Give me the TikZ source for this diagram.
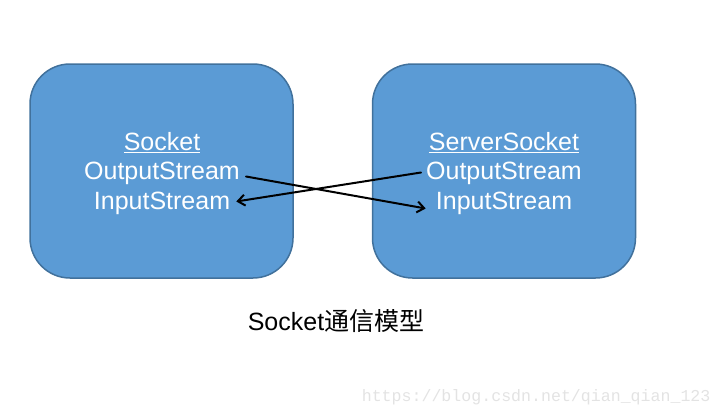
\documentclass[tikz,border=0pt]{standalone}
\usepackage{fontspec}
\setmainfont{Liberation Sans}
\newfontfamily\cjk{Noto Sans CJK SC}
\newfontfamily\markfont{Liberation Mono}
\usetikzlibrary{arrows.meta}
\definecolor{boxblue}{HTML}{5B9BD5}
\definecolor{boxline}{HTML}{41719C}
\tikzset{
  sockbox/.style={draw=boxline, fill=boxblue, line width=1.5pt, rounded corners=40pt,
    minimum width=263pt, minimum height=214pt},
  streamtxt/.style={text=white, font=\fontsize{25}{25}\selectfont, inner sep=4pt},
  link/.style={->, line width=2pt, black}
}
\begin{document}
\begin{tikzpicture}[x=1pt, y=-1pt, >={Straight Barb[length=7pt,width=11pt]}, line join=round, line cap=round]
	\useasboundingbox (0,0) rectangle (724,415);
	% the two boxes
	\node[sockbox] (client) at (161.5,171) {};
	\node[sockbox] (server) at (504,171) {};
	% client side
	\node[streamtxt] (ctitle) at (162,142.5) {\underline{Socket}};
	\node[streamtxt] (cout) at (162,173.5) {OutputStream};
	\node[streamtxt] (cin) at (162,203.5) {InputStream};
	% server side
	\node[streamtxt] (stitle) at (504,142.5) {\underline{ServerSocket}};
	\node[streamtxt] (sout) at (504,173.5) {OutputStream};
	\node[streamtxt] (sin) at (504,203.5) {InputStream};
	% crossing streams
	\draw[link] ([shift={(2,3)}]cout.east) -- ([shift={(-6,5)}]sin.west);
	\draw[link] ([shift={(-1,-1)}]sout.west) -- ([shift={(2,-2)}]cin.east);
	% caption and mark
	\node[font=\fontsize{25}{25}\selectfont] (caption) at (336,321) {Socket{\cjk 通信模型}};
	\node[font=\markfont\fontsize{16.6}{16.6}\selectfont, text=black!11, anchor=east] (mark) at (714,397) {https://blog.csdn.net/qian\_qian\_123};
\end{tikzpicture}
\end{document}
